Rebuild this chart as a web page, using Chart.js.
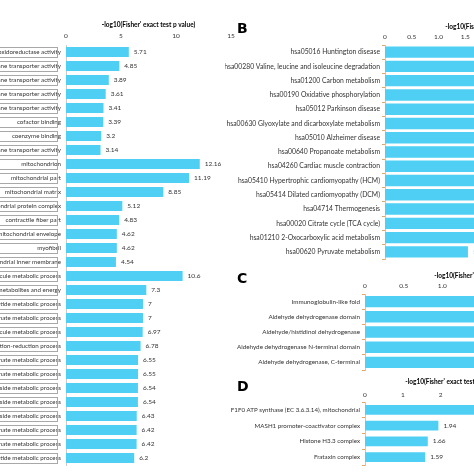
<!DOCTYPE html>
<html>
<head>
<meta charset="utf-8">
<script src="https://cdn.jsdelivr.net/npm/chart.js@4.4.0/dist/chart.umd.min.js"></script>
<style>
  html, body { margin: 0; padding: 0; background: #fff; width: 474px; height: 474px; overflow: hidden; }
  canvas { position: absolute; }
  .tag { position: absolute; font: bold 14px "DejaVu Sans"; line-height: 14px; color: #000; }
</style>
</head>
<body>
<canvas id="chartA" width="240" height="474" style="left:0px;top:0px;width:240px;height:474px"></canvas>
<canvas id="chartB" width="384" height="270" style="left:225px;top:0px;width:384px;height:270px"></canvas>
<canvas id="chartC" width="382" height="110" style="left:225px;top:265px;width:382px;height:110px"></canvas>
<canvas id="chartD" width="324" height="102" style="left:225px;top:372px;width:324px;height:102px"></canvas>
<div class="tag" style="left:237px;top:21px">B</div>
<div class="tag" style="left:237px;top:271px">C</div>
<div class="tag" style="left:237px;top:379px">D</div>
<script>
const axisTitle = "-log10(Fisher' exact test p value)";

// Panel A: GO terms (molecular function, cellular component, biological process)
const goTerms = [
  "oxidoreductase activity",
  "cation transmembrane transporter activity",
  "ion transmembrane transporter activity",
  "inorganic cation transmembrane transporter activity",
  "hydrogen ion transmembrane transporter activity",
  "cofactor binding",
  "coenzyme binding",
  "proton transmembrane transporter activity",
  "mitochondrion",
  "mitochondrial part",
  "mitochondrial matrix",
  "mitochondrial protein complex",
  "contractile fiber part",
  "mitochondrial envelope",
  "myofibril",
  "mitochondrial inner membrane",
  "small molecule metabolic process",
  "generation of precursor metabolites and energy",
  "nucleotide metabolic process",
  "nucleoside phosphate metabolic process",
  "cellular small molecule metabolic process",
  "oxidation-reduction process",
  "ribose phosphate metabolic process",
  "organophosphate metabolic process",
  "purine ribonucleoside metabolic process",
  "purine nucleoside metabolic process",
  "ribonucleoside metabolic process",
  "purine ribonucleoside triphosphate metabolic process",
  "purine nucleoside triphosphate metabolic process",
  "purine ribonucleotide metabolic process"
];
const goValues = [5.71, 4.85, 3.89, 3.61, 3.41, 3.39, 3.2, 3.14,
  12.16, 11.19, 8.85, 5.12, 4.83, 4.62, 4.62, 4.54,
  10.6, 7.3, 7, 7, 6.97, 6.78, 6.55, 6.55, 6.54, 6.54, 6.43, 6.42, 6.42, 6.2];

// Panel B: KEGG pathways
const keggTerms = [
  "hsa05016 Huntington disease",
  "hsa00280 Valine, leucine and isoleucine degradation",
  "hsa01200 Carbon metabolism",
  "hsa00190 Oxidative phosphorylation",
  "hsa05012 Parkinson disease",
  "hsa00630 Glyoxylate and dicarboxylate metabolism",
  "hsa05010 Alzheimer disease",
  "hsa00640 Propanoate metabolism",
  "hsa04260 Cardiac muscle contraction",
  "hsa05410 Hypertrophic cardiomyopathy (HCM)",
  "hsa05414 Dilated cardiomyopathy (DCM)",
  "hsa04714 Thermogenesis",
  "hsa00020 Citrate cycle (TCA cycle)",
  "hsa01210 2-Oxocarboxylic acid metabolism",
  "hsa00620 Pyruvate metabolism"
];
const keggValues = [3.8, 3.45, 3.2, 3.05, 2.9, 2.6, 2.5, 2.35, 2.2, 2.1, 2.0, 1.95, 1.85, 1.78, 1.55];

// Panel C: protein domains
const domainTerms = [
  "Immunoglobulin-like fold",
  "Aldehyde dehydrogenase domain",
  "Aldehyde/histidinol dehydrogenase",
  "Aldehyde dehydrogenase N-terminal domain",
  "Aldehyde dehydrogenase, C-terminal"
];
const domainValues = [2.6, 2.3, 2.3, 2.3, 2.3];

// Panel D: protein complexes
const complexTerms = [
  "F1F0 ATP synthase (EC 3.6.3.14), mitochondrial",
  "MASH1 promoter-coactivator complex",
  "Histone H3.3 complex",
  "Frataxin complex"
];
const complexValues = [4.1, 1.94, 1.66, 1.59];

const barColor = "#4ecff3";
const textColor = "#333333";

const valueLabels = {
  id: "valueLabels",
  afterDatasetsDraw(chart) {
    const ctx = chart.ctx;
    const meta = chart.getDatasetMeta(0);
    ctx.save();
    ctx.font = "6.5px Lato";
    ctx.fillStyle = textColor;
    ctx.textAlign = "left";
    ctx.textBaseline = "middle";
    meta.data.forEach((bar, i) => {
      ctx.fillText(String(chart.data.datasets[0].data[i]), bar.x + 5, bar.y);
    });
    ctx.restore();
  }
};

const labelBoxes = {
  id: "labelBoxes",
  afterDraw(chart) {
    if (!chart.options.plugins.labelBoxes) return;
    const ctx = chart.ctx;
    const y = chart.scales.y;
    ctx.save();
    ctx.strokeStyle = "#a8a8a8";
    ctx.lineWidth = 1;
    chart.data.labels.forEach((l, i) => {
      const cy = y.getPixelForValue(i);
      ctx.strokeRect(-5.5, Math.round(cy - 5) + 0.5, chart.chartArea.left - 3, 10);
    });
    ctx.restore();
  }
};

function makePanel(id, labels, values, cfg) {
  return new Chart(document.getElementById(id), {
    type: "bar",
    data: {
      labels: labels,
      datasets: [{
        data: values,
        backgroundColor: barColor,
        barPercentage: cfg.bar,
        categoryPercentage: 1
      }]
    },
    options: {
      indexAxis: "y",
      responsive: false,
      animation: false,
      layout: { padding: { left: 0, top: 0, right: cfg.padRight, bottom: cfg.padBottom } },
      plugins: {
        legend: { display: false },
        tooltip: { enabled: false },
        labelBoxes: cfg.boxes
      },
      scales: {
        x: {
          position: "top",
          min: 0,
          max: cfg.max,
          ticks: { stepSize: cfg.step, padding: cfg.tickPad, color: textColor, font: { family: "Lato", size: 6.5 } },
          grid: { display: false, drawTicks: false },
          border: { display: false },
          title: {
            display: true,
            text: axisTitle,
            color: "#000",
            font: { family: "Lato", size: 6.5, weight: "bold" },
            padding: { top: cfg.titlePad, bottom: 0 }
          },
          afterFit: s => { s.height = cfg.xHeight; s.paddingLeft = 0; s.paddingRight = 0; }
        },
        y: {
          ticks: { autoSkip: false, padding: cfg.boxes ? 5 : 2, color: textColor, font: { family: "Lato", size: cfg.labelSize } },
          grid: { display: !cfg.boxes, drawOnChartArea: false, drawTicks: !cfg.boxes, tickLength: 3, color: "#e0a66a" },
          border: { display: true, color: "#c8c8c8" },
          afterFit: s => { s.width = cfg.yWidth; s.paddingTop = 0; s.paddingBottom = 0; }
        }
      }
    },
    plugins: [valueLabels, labelBoxes]
  });
}

makePanel("chartA", goTerms, goValues, {
  yWidth: 66, xHeight: 45, padBottom: 9, padRight: 9, max: 15, step: 5,
  bar: 0.7, titlePad: 21, tickPad: 5, boxes: true, labelSize: 6.2
});
makePanel("chartB", keggTerms, keggValues, {
  yWidth: 160, xHeight: 45, padBottom: 11, padRight: 10, max: 4, step: 0.5,
  bar: 0.8, titlePad: 23, tickPad: 4, boxes: false, labelSize: 6.8
});
makePanel("chartC", domainTerms, domainValues, {
  yWidth: 140, xHeight: 29, padBottom: 5, padRight: 10, max: 3, step: 0.5,
  bar: 0.75, titlePad: 7, tickPad: 4, boxes: false, labelSize: 6.3
});
makePanel("chartD", complexTerms, complexValues, {
  yWidth: 140, xHeight: 30, padBottom: 9, padRight: 10, max: 4.6, step: 1,
  bar: 0.62, titlePad: 6, tickPad: 3, boxes: false, labelSize: 6.2
});
</script>
</body>
</html>
